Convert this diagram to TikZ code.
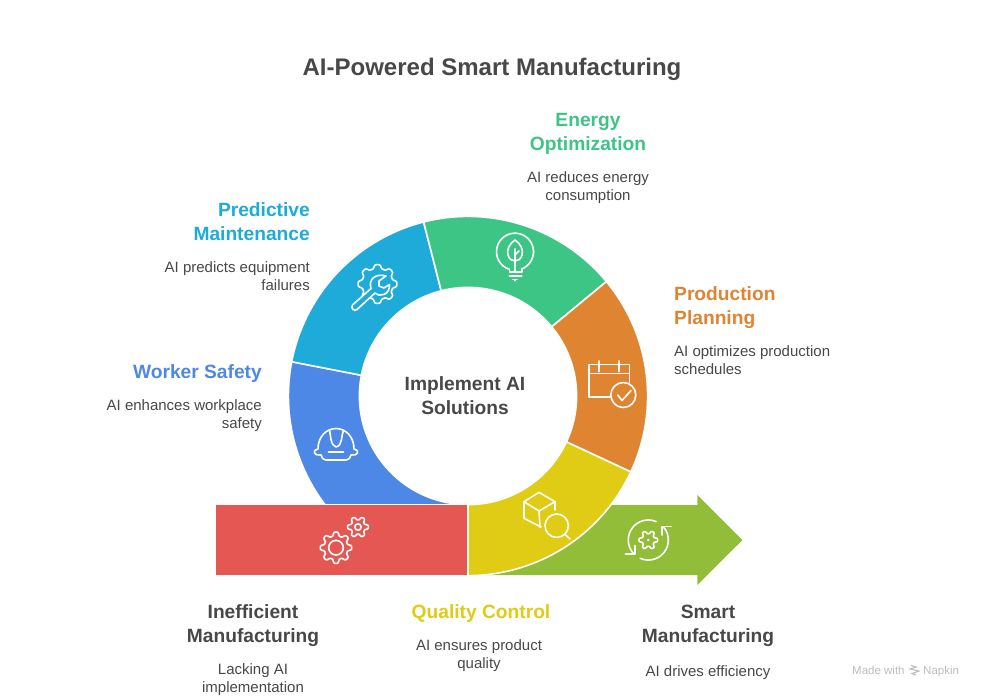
\documentclass[tikz,border=0pt]{standalone}
\usepackage{fontspec}
\setmainfont{Liberation Sans}
\definecolor{cblue}{HTML}{4E88E7}
\definecolor{csky}{HTML}{1EABDA}
\definecolor{cgreen}{HTML}{3DC585}
\definecolor{corange}{HTML}{DF8431}
\definecolor{cyellow}{HTML}{E0CB15}
\definecolor{cred}{HTML}{E55753}
\definecolor{colive}{HTML}{92BD39}
\definecolor{ctext}{HTML}{484848}
\definecolor{cmark}{HTML}{BDBDBD}
\newcommand{\ringseg}[4][white]{%
  \path[fill=#4,draw=#1,line width=1.6pt,line join=miter]
    plot[domain=#2:#3,samples=70] ({468+179.6*cos(\x)},{396-179.6*sin(\x)})
    -- plot[domain=#3:#2,samples=50] ({468+108.6*cos(\x)},{396-108.6*sin(\x)}) -- cycle;}
% \gearicon{cx}{cy}{R}{amp}{teeth}
\newcommand{\gearicon}[5]{%
  \draw[icon] plot[domain=0:360,samples=145,smooth cycle]
    ({#1+(#3+#4*tanh(1.8*cos(#5*\x)))*cos(\x)},{#2+(#3+#4*tanh(1.8*cos(#5*\x)))*sin(\x)});}
% \arcicon{cx}{cy}{r}{from}{to}
\newcommand{\arcicon}[5]{%
  \draw[icon] plot[domain=#4:#5,samples=40] ({#1+#3*cos(\x)},{#2+#3*sin(\x)});}
\tikzset{
  icon/.style={draw=white,line width=1.6pt,line cap=round,line join=round},
  headR/.style={font=\fontsize{19.2}{24}\selectfont\bfseries,align=right,anchor=east,inner sep=0pt},
  headL/.style={font=\fontsize{19.2}{24}\selectfont\bfseries,align=left,anchor=west,inner sep=0pt},
  headC/.style={font=\fontsize{19.2}{24}\selectfont\bfseries,align=center,anchor=center,inner sep=0pt},
  bodyR/.style={font=\fontsize{15}{18}\selectfont,text=ctext,align=right,anchor=east,inner sep=0pt},
  bodyL/.style={font=\fontsize{15}{18}\selectfont,text=ctext,align=left,anchor=west,inner sep=0pt},
  bodyC/.style={font=\fontsize{15}{18}\selectfont,text=ctext,align=center,anchor=center,inner sep=0pt},
}
\begin{document}
\begin{tikzpicture}[x=1pt,y=-1pt]
\useasboundingbox (0,0) rectangle (984,697);
\fill[white] (0,0) rectangle (984,697);
% arrow
\fill[colive] (475,505) -- (697.3,505) -- (697.3,495) -- (742.5,540) -- (697.3,585) -- (697.3,575) -- (475,575) -- cycle;
% red bar
\fill[cred] (216,505) rectangle (467.2,575);
% ring
\begin{scope}
\clip (0,0) rectangle (984,503);
\ringseg{169}{270}{cblue}
\end{scope}
\ringseg{104.3}{169}{csky}
\ringseg{39.6}{104.3}{cgreen}
\ringseg{-25}{39.6}{corange}
\ringseg{-90}{-25}{cyellow}
% wrench + gear icon
\gearicon{377.5}{284}{17.5}{2}{8}
\path[fill=csky,draw=white,line width=1.6pt,line join=round]
  (352.5,305) -- (371,288.5) .. controls (368,279) and (376,273) .. (386,276)
  -- (379,281) -- (379,286) -- (384,288) -- (389.5,284.5)
  .. controls (390,294) and (381,298) .. (375,293) -- (357,309.5)
  .. controls (354,312) and (350.5,308) .. (352.5,305) -- cycle;
% bulb icon
\arcicon{515}{251.7}{18.5}{69.5}{-249.5}
\draw[icon] (509.3,269) -- (509.3,271.7) -- (521.7,271.7) -- (521.7,269);
\draw[icon] (509.3,275.7) -- (521.7,275.7);
\draw[icon] (513,279.3) -- (517,279.3);
\draw[icon] (515,279.3) -- (515,280.7);
\draw[icon] (515,240) .. controls (509,244) and (506.5,250) .. (508,255) .. controls (509,259) and (512,261) .. (515,261)
  .. controls (518,261) and (521,259) .. (522,255) .. controls (523.5,250) and (521,244) .. (515,240) -- cycle;
\draw[icon] (515,249) -- (515,271);
\draw[icon] (515,255) -- (519,251);
% calendar icon
\draw[icon] (629.3,382) -- (629.3,364.5) -- (589,364.5) -- (589,396.7) -- (610.8,396.7);
\draw[icon] (589,373.5) -- (629.3,373.5);
\draw[icon] (599,361) -- (599,371.5);
\draw[icon] (619,361) -- (619,371.5);
\draw[icon] (623.3,395) circle[radius=12.5];
\draw[icon] (617.7,395) -- (622,400.5) -- (631,390.5);
% helmet icon
\draw[icon] (318,449) .. controls (318,437) and (326,428.5) .. (336,428.5) .. controls (346,428.5) and (354,437) .. (354,449)
  .. controls (357,450) and (358.5,451) .. (357.5,453) .. controls (357,455) and (354,455) .. (351,455)
  .. controls (350,458) and (349,460) .. (346,460) -- (326,460) .. controls (323,460) and (322,458) .. (321,455)
  .. controls (318,455) and (315,455) .. (314.5,453) .. controls (313.5,451) and (315,450) .. (318,449) -- cycle;
\draw[icon] (329.5,430) .. controls (331,436) and (330,445) .. (336,447) .. controls (343,445) and (341,436) .. (343.5,430);
\draw[icon] (328.5,451.7) -- (343.5,451.7);
% cogs icon
\gearicon{336}{547.7}{13.8}{2}{8}
\draw[icon] (336,547.7) circle[radius=7.3];
\gearicon{358}{527}{8.8}{1.7}{6}
\draw[icon] (358,527) circle[radius=3.2];
% box + magnifier icon
\draw[icon] (555,510) -- (555,501.7) -- (539,492.3) -- (524,501.7) -- (524,518.3) -- (541,527);
\draw[icon] (524,501.7) -- (539,511) -- (555,501.7);
\draw[icon] (539,511) -- (540,527);
\draw[icon] (556.7,525.7) circle[radius=11.7];
\draw[icon] (564.5,534) -- (570,539);
% cycle + gear icon
\gearicon{648.3}{540}{7.8}{1.6}{6}
\fill[white] (648.3,540) circle[radius=1.3];
\arcicon{648.3}{540}{20}{-67}{-224}
\arcicon{648.3}{540}{20}{114}{-42}
\draw[icon] (625.5,554) -- (635,554) -- (635,545.5);
\draw[icon] (671,526.3) -- (661.7,526.3) -- (661.7,535);
% texts
\node[font=\fontsize{24}{30}\selectfont\bfseries,text=ctext,inner sep=0pt] (title) at (492,69) {\strut AI-Powered Smart Manufacturing};
\node[headR,text=csky] (h1) at (310,224) {\strut Predictive\\\strut Maintenance};
\node[bodyR] (b1) at (310,278) {\strut AI predicts equipment\\\strut failures};
\node[headR,text=cblue] (h2) at (262,374) {\strut Worker Safety};
\node[bodyR] (b2) at (262,416) {\strut AI enhances workplace\\\strut safety};
\node[headC,text=cgreen] (h3) at (588,134) {\strut Energy\\\strut Optimization};
\node[bodyC] (b3) at (588,188) {\strut AI reduces energy\\\strut consumption};
\node[headL,text=corange] (h4) at (674,308) {\strut Production\\\strut Planning};
\node[bodyL] (b4) at (674,362) {\strut AI optimizes production\\\strut schedules};
\node[headC,text=ctext] (h5) at (253,626) {\strut Inefficient\\\strut Manufacturing};
\node[bodyC] (b5) at (253,680) {\strut Lacking AI\\\strut implementation};
\node[headC,text=cyellow] (h6) at (481,614) {\strut Quality Control};
\node[bodyC] (b6) at (479,656) {\strut AI ensures product\\\strut quality};
\node[headC,text=ctext] (h7) at (708,626) {\strut Smart\\\strut Manufacturing};
\node[bodyC] (b7) at (708,673) {\strut AI drives efficiency};
\node[headC,text=ctext] (center) at (465,398) {\strut Implement AI\\\strut Solutions};
% watermark
\node[font=\fontsize{11.5}{14}\selectfont,text=cmark,anchor=west,inner sep=0pt] (m1) at (852,671.5) {\strut Made with};
\node[font=\fontsize{11.5}{14}\selectfont,text=cmark,anchor=west,inner sep=0pt] (m2) at (923,671.5) {\strut Napkin};
\draw[cmark,line width=1.1pt] (911,665.5) -- (916,667) -- (910,669) -- (919,671) -- (912,673.5) -- (916,675);
\end{tikzpicture}
\end{document}
